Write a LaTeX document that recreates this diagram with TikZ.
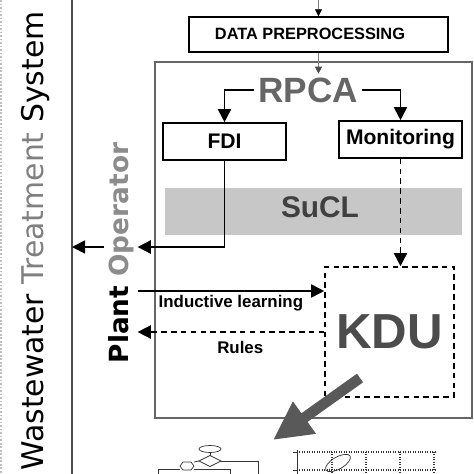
\documentclass[tikz,border=0pt]{standalone}
\usepackage{fontspec}
\setmainfont{Liberation Sans}
\newfontfamily\dejavu{DejaVu Sans}
\usetikzlibrary{arrows.meta}
\newlength\px
\setlength\px{0.02cm}

\begin{document}
\begin{tikzpicture}[x=0.02cm, y=0.02cm, >={Triangle[length=7.5pt,width=7.5pt]},
  box/.style={draw, line width=0.9pt, minimum width=123*\px, minimum height=37*\px,
    inner sep=0pt, font=\bfseries\fontsize{12}{14}\selectfont},
  arr/.style={->, line width=1pt},
  dsh/.style={dash pattern=on 3.2pt off 2.4pt, line width=0.9pt},
  lbl/.style={font=\bfseries\fontsize{9.6}{11}\selectfont, inner sep=2pt},
  sketch/.style={black!80, line width=0.4pt}]
\useasboundingbox (0,0) rectangle (474,-474);

% plant side
\draw[gray!50, line width=1pt, dash pattern=on 1pt off 1pt] (1,0) -- (1,-474);
\coordinate (wtop) at (72,0);
\coordinate (wbot) at (72,-474);
\draw[line width=0.8pt, black!70] (wtop) -- (wbot);
\node[rotate=90, anchor=base, font=\dejavu\fontsize{17}{20}\selectfont] (wwts) at (43,-241)
  {Wastewater {\color{black!50}Treatment} System};
\node[rotate=90, inner sep=2pt, font=\dejavu\bfseries\fontsize{15}{18}\selectfont] (po) at (121,-253)
  {Plant {\color{black!45}Operator}};

% main frame
\draw[black!60, line width=0.6pt] (155,-62) rectangle (472,-418);

% preprocessing and RPCA
\coordinate (in) at (318.5,0);
\node[draw, line width=0.8pt, minimum width=259*\px, minimum height=35*\px] (data) at (318.5,-34.5) {};
\node[font=\bfseries\fontsize{9.3}{11}\selectfont] (datatxt) at (310,-34) {DATA PREPROCESSING};
\draw[gray, line width=0.5pt, -{Triangle[length=4pt,width=4pt,color=black]}] (in) -- (data.north);
\node[font=\bfseries\fontsize{20}{24}\selectfont, text=black!60, inner sep=2pt] (rpca) at (308,-90) {RPCA};
\draw[gray, line width=0.5pt, -{Triangle[length=4pt,width=4pt,color=black!70]}] (data.south) -- (data.south |- rpca.north);

\node[box] (fdi) at (224.5,-141.5) {FDI};
\node[box] (mon) at (400.5,-139.5) {Monitoring};
\draw[arr] (rpca.west) -| (fdi.north);
\draw[arr] (rpca.east) -| (mon.north);

\node[fill=black!22, minimum width=297*\px, minimum height=47*\px, inner sep=0pt] (sucl) at (313.5,-211.5) {};
\node[font=\bfseries\fontsize{17}{20}\selectfont, text=black!75] (sucltxt) at (320,-207) {SuCL};

\coordinate (r1) at (0,-247);
\coordinate (r2) at (0,-291);
\coordinate (r3) at (0,-332);
\draw[arr] (fdi.south) |- (po.south |- r1);
\draw[arr] (po.north |- r1) -- (wtop |- r1);

\node[draw, dsh, minimum width=129*\px, minimum height=130*\px, inner sep=0pt,
  font=\bfseries\fontsize{28}{32}\selectfont, text=black!70] (kdu) at (389.5,-332) {KDU};
\draw[arr, dsh] (mon.south) -- (mon.south |- kdu.north);
\draw[arr] (po.south |- r2) -- node[lbl, below] (indl) {Inductive learning} (kdu.west |- r2);
\draw[arr, dsh] (kdu.west |- r3) -- node[lbl, below=3pt, pos=0.45] (rules) {Rules} (po.south |- r3);

% output
\coordinate (bigs) at (360,-378);
\coordinate (bige) at (273,-440);
\draw[black!65, line width=6pt, -{Triangle[length=22pt,width=21pt]}] (bigs) -- (bige);

% flowchart thumbnail
\draw[sketch] (210,-449) ellipse (11 and 3.5);
\draw[sketch] (210,-455.5) -- (221,-461) -- (210,-466.5) -- (199,-461) -- cycle;
\draw[sketch] (210,-452.5) -- (210,-455.5);
\draw[sketch] (221,-461) -- (258,-461) -- (258,-474);
\draw[sketch] (199,-461) -- (194,-462);
\draw[sketch] (180,-466) -- (183,-462) -- (191,-462) -- (194,-466) -- (191,-470) -- (183,-470) -- cycle;
\draw[sketch] (158,-474) -- (158,-469) -- (180,-469);
\draw[sketch] (194,-469) -- (230,-469) -- (230,-474);

% plot thumbnail
\draw[sketch] (297,-450) -- (297,-474);
\draw[sketch] (293,-452) -- (297,-452);
\draw[sketch] (293,-470) -- (297,-470);
\draw[sketch, densely dotted, line width=0.7pt] (297,-452) -- (435,-452);
\draw[sketch, densely dotted, line width=0.7pt] (297,-470) -- (435,-470);
\foreach \x in {332,366,400,434} {
\draw[sketch, densely dotted, line width=0.7pt] (\x,-452) -- (\x,-474);
}
\draw[sketch, rotate around={30:(338,-463)}] (338,-463) ellipse (14 and 6);

\end{tikzpicture}
\end{document}
